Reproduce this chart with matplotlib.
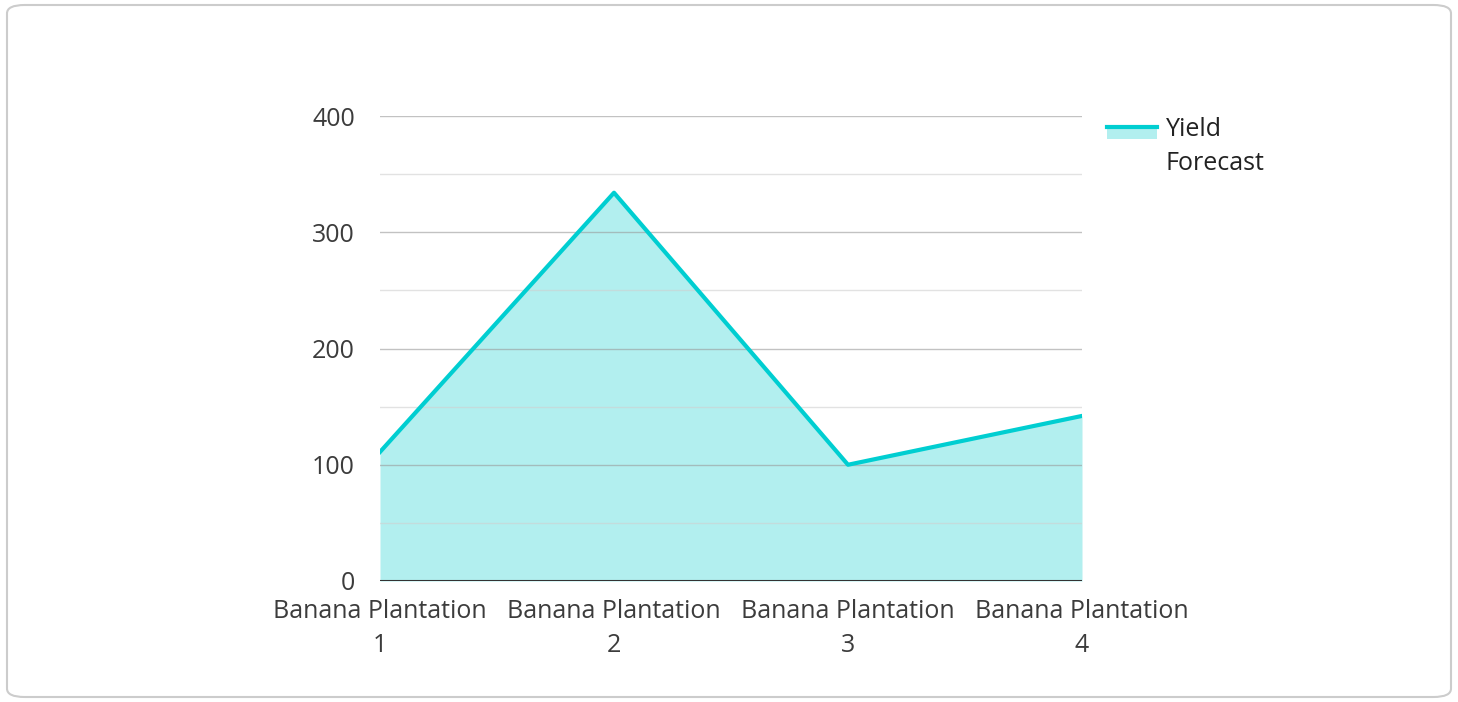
import matplotlib
matplotlib.use('Agg')
import matplotlib.pyplot as plt
from matplotlib.patches import FancyBboxPatch, Rectangle
from matplotlib.lines import Line2D

plt.rcParams['font.family'] = ['Open Sans', 'DejaVu Sans']

categories = ['Banana Plantation\n1', 'Banana Plantation\n2', 'Banana Plantation\n3', 'Banana Plantation\n4']
yield_forecast = [111, 334, 100, 142]
series_name = 'Yield\nForecast'

line_color = '#00CED1'
fill_color = '#b2efef'
text_color = '#3c3c3c'
fs = 18

W, H = 1458, 702
fig = plt.figure(figsize=(W / 100, H / 100), dpi=100)

# rounded card border (behind everything)
card = FancyBboxPatch((7 / W, 5 / H), 1444 / W, 692 / H,
                      boxstyle='round,pad=0,rounding_size=0.012',
                      transform=fig.transFigure, facecolor='white',
                      edgecolor='#cccccc', linewidth=1.5, zorder=-10)
fig.add_artist(card)

ax = fig.add_axes([380 / W, 1 - 581 / H, (1082 - 380) / W, (581 - 116) / H])
ax.set_facecolor('none')

x = list(range(len(categories)))
ax.fill_between(x, yield_forecast, 0, color=fill_color, linewidth=0, zorder=1)
ax.plot(x, yield_forecast, color=line_color, linewidth=3, zorder=3)

ax.set_xlim(0, len(categories) - 1)
ax.set_ylim(0, 400)
ax.set_yticks([0, 100, 200, 300, 400])
ax.set_xticks(x)
ax.set_xticklabels(categories, linespacing=1.45)

for v in [100, 200, 300, 400]:
    ax.axhline(v, color='#9a9a9a', linewidth=1, alpha=0.6, zorder=2)
for v in [50, 150, 250, 350]:
    ax.axhline(v, color='#d0d0d0', linewidth=1, alpha=0.6, zorder=2)
ax.axhline(0, color='#333333', linewidth=1.5, zorder=4)

for s in ax.spines.values():
    s.set_visible(False)
ax.tick_params(axis='both', which='both', length=0, labelsize=fs, colors=text_color)
ax.tick_params(axis='y', pad=18)
ax.tick_params(axis='x', pad=13)

# legend
fig.add_artist(Rectangle((1107 / W, 1 - 139 / H), 50 / W, 13 / H,
                         transform=fig.transFigure, facecolor=fill_color, edgecolor='none'))
fig.add_artist(Line2D([1107 / W, 1157 / W], [1 - 127 / H, 1 - 127 / H],
                      transform=fig.transFigure, color=line_color, linewidth=3))
fig.text(1166 / W, 1 - 117 / H, series_name, fontsize=fs, color='#222222',
         va='top', ha='left', linespacing=1.45)

fig.savefig('out.png', dpi=100)
